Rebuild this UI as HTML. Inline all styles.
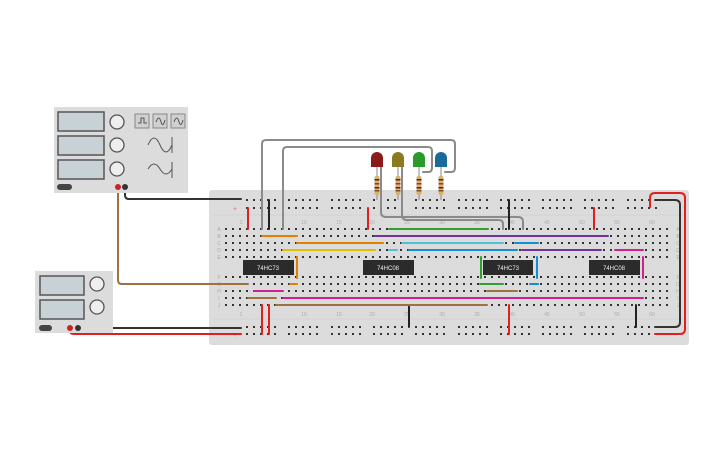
<!DOCTYPE html>
<html><head><meta charset="utf-8"><style>html,body{margin:0;padding:0;background:#fff}svg{display:block}</style></head>
<body>
<svg id="s" width="725" height="453" viewBox="0 0 725 453" xmlns="http://www.w3.org/2000/svg" font-family="Liberation Sans, sans-serif">
<!-- breadboard -->
<rect x="209" y="190" width="480" height="155" rx="3" fill="#dcdcdc"/>
<line x1="214" y1="215" x2="684" y2="215" stroke="#cfcfcf" stroke-width="0.8"/>
<line x1="214" y1="319" x2="684" y2="319" stroke="#cfcfcf" stroke-width="0.8"/>
<text x="233" y="211" font-size="7" fill="#e07070">+</text>
<text x="233" y="337" font-size="7" fill="#e07070">+</text>
<g id="holes" fill="#333"></g>
<g id="labels" font-size="5" fill="#aaa"></g>
<!-- chips -->
<g font-size="6" fill="#eee" text-anchor="middle">
<rect x="243" y="260" width="51" height="15" fill="#2b2b2b"/><text x="268" y="270">74HC73</text>
<rect x="363" y="260" width="51" height="15" fill="#2b2b2b"/><text x="388" y="270">74HC08</text>
<rect x="483" y="260" width="50" height="15" fill="#2b2b2b"/><text x="508" y="270">74HC73</text>
<rect x="589" y="260" width="51" height="15" fill="#2b2b2b"/><text x="614" y="270">74HC08</text>
</g>
<g fill="none" stroke-linecap="round" stroke-width="2">
<!-- gray LED wires -->
<path d="M262 229 V144 Q262 140 266 140 H451 Q455 140 455 144 V168 Q455 172 451 172 H445" stroke="#8a8a8a"/>
<path d="M283 229 V151 Q283 147 287 147 H428 Q432 147 432 151 V168 Q432 172 428 172 H423" stroke="#8a8a8a"/>
<path d="M381 165 V212 Q381 217 386 217 H518 Q523 217 523 222 V229" stroke="#8a8a8a"/>
<path d="M402 165 V215 Q402 220 407 220 H499 Q503 220 503 224 V229" stroke="#8a8a8a"/>
<!-- verticals -->
<path d="M248 208 V229" stroke="#e02020"/>
<path d="M269 200 V229" stroke="#222"/>
<path d="M368 208 V229" stroke="#e02020"/>
<path d="M509 200 V229" stroke="#222"/>
<path d="M594 208 V229" stroke="#e02020"/>
<path d="M262 305 V334" stroke="#e02020"/>
<path d="M269 305 V334" stroke="#e02020"/>
<path d="M409 305 V327" stroke="#222"/>
<path d="M509 305 V334" stroke="#e02020"/>
<path d="M636 305 V327" stroke="#222"/>
<path d="M297 257 V278" stroke="#e08000"/>
<path d="M481 257 V278" stroke="#30a030"/>
<path d="M537 257 V278" stroke="#1090d0"/>
<path d="M643 257 V278" stroke="#d02090"/>
<!-- horizontals -->
<path d="M389 229 H488" stroke="#30a030"/>
<path d="M262 236 H297" stroke="#e08000"/>
<path d="M374 236 H608" stroke="#7030a0"/>
<path d="M297 243 H383" stroke="#e08000"/>
<path d="M402 243 H503" stroke="#50c0d8"/>
<path d="M515 243 H538" stroke="#1090d0"/>
<path d="M283 250 H375" stroke="#e0c000"/>
<path d="M389 250 H397" stroke="#50c0d8"/>
<path d="M409 250 H517" stroke="#1090d0"/>
<path d="M522 250 H601" stroke="#7030a0"/>
<path d="M615 250 H643" stroke="#d02090"/>
<path d="M290 284 H297" stroke="#e08000"/>
<path d="M480 284 H503" stroke="#30a030"/>
<path d="M530 284 H538" stroke="#1090d0"/>
<path d="M254 291 H283" stroke="#d02090"/>
<path d="M487 291 H517" stroke="#a07040"/>
<path d="M248 298 H276" stroke="#a07040"/>
<path d="M283 298 H643" stroke="#d02090"/>
<path d="M276 305 H487" stroke="#a07040"/>
<!-- right loops -->
<path d="M650 207 V198 Q650 193 655 193 H680 Q685 193 685 198 V329 Q685 334 680 334 H655" stroke="#e02020"/>
<path d="M655 200 H675 Q680 200 680 205 V322 Q680 327 675 327 H655" stroke="#333"/>
<!-- source wires -->
<path d="M125 187 V195 Q125 199 129 199 H241" stroke="#333"/>
<path d="M118 187 V280 Q118 284 122 284 H248" stroke="#a07040"/>
<path d="M78 328 H241" stroke="#333"/>
<path d="M70 328 V331 Q70 334 74 334 H241" stroke="#e02020"/>
</g>
<!-- LEDs and resistors -->
<g>
<g id="leds"></g>
</g>
<!-- function generator -->
<rect x="54" y="107" width="134" height="86" fill="#dcdcdc"/>
<g fill="#c8d2d6" stroke="#555" stroke-width="1.5">
<rect x="58" y="112" width="46" height="19"/><rect x="58" y="136" width="46" height="19"/><rect x="58" y="160" width="46" height="19"/>
</g>
<g fill="#eee" stroke="#555" stroke-width="1.3">
<circle cx="117" cy="122" r="7"/><circle cx="117" cy="145" r="7"/><circle cx="117" cy="169" r="7"/>
</g>
<g fill="#d0d0d0" stroke="#888"><rect x="135" y="114" width="14" height="14"/><rect x="153" y="114" width="14" height="14"/><rect x="171" y="114" width="14" height="14"/></g>
<g fill="none" stroke="#555"><path d="M138 123 h3 v-5 h3 v5 h3"/><path d="M156 122 q3 -8 5 0 q2 6 4 -2"/><path d="M174 122 q3 -8 5 0 q2 6 4 -2"/>
<path d="M148 145 q6 -14 12 0 q6 14 12 0"/><path d="M172 137 v16"/><path d="M148 169 q6 -10 12 0 q6 10 12 0"/><path d="M172 162 v16"/></g>
<rect x="57" y="184" width="15" height="6" rx="3" fill="#444"/>
<circle cx="118" cy="187" r="3" fill="#d02020"/><circle cx="125" cy="187" r="3" fill="#333"/>
<!-- power supply -->
<rect x="35" y="271" width="78" height="62" fill="#dcdcdc"/>
<g fill="#c8d2d6" stroke="#555" stroke-width="1.5"><rect x="40" y="276" width="44" height="19"/><rect x="40" y="300" width="44" height="19"/></g>
<g fill="#eee" stroke="#555" stroke-width="1.3"><circle cx="97" cy="284" r="7"/><circle cx="97" cy="307" r="7"/></g>
<rect x="39" y="325" width="13" height="6" rx="3" fill="#444"/>
<circle cx="70" cy="328" r="3" fill="#d02020"/><circle cx="78" cy="328" r="3" fill="#333"/>
</svg>
<script>
var NS="http://www.w3.org/2000/svg",h=document.getElementById('holes'),lb=document.getElementById('labels');
function r(x,y){var e=document.createElementNS(NS,'rect');e.setAttribute('x',x-1);e.setAttribute('y',y-1);e.setAttribute('width',2);e.setAttribute('height',2);h.appendChild(e);}
function t(x,y,s){var e=document.createElementNS(NS,'text');e.setAttribute('x',x);e.setAttribute('y',y);e.setAttribute('text-anchor','middle');e.textContent=s;lb.appendChild(e);}
[229,236,243,250,257,277,284,291,298,305].forEach(function(y){for(var k=0;k<64;k++)r(226+7*k,y);});
[200,208,327,334].forEach(function(y){for(var g=0;g<10;g++)for(var i=0;i<5;i++)r(Math.round(247+42.3*g+7*i),y);});
"ABCDE".split('').forEach(function(c,i){t(219,231+7*i,c);t(678,231+7*i,c);});
"FGHIJ".split('').forEach(function(c,i){t(219,279+7*i,c);t(678,279+7*i,c);});
t(241,224,'1');t(241,316,'1');
for(var n=5;n<=60;n+=5){t(241+7*(n-1)+(n>=20?-2:0),224,n);t(241+7*(n-1)+(n>=20?-2:0),316,n);}
var L=document.getElementById('leds');
[[377,'#8b1a1a'],[398,'#8a7a20'],[419,'#2a9a2a'],[441,'#1a6a9a']].forEach(function(a){
var x=a[0];
L.innerHTML+='<line x1="'+x+'" y1="166" x2="'+x+'" y2="200" stroke="#888" stroke-width="1"/>'+
'<rect x="'+(x-2.5)+'" y="176" width="5" height="19" rx="2" fill="#d8b070"/>'+
'<rect x="'+(x-2.5)+'" y="179" width="5" height="1.5" fill="#333"/><rect x="'+(x-2.5)+'" y="183" width="5" height="1.5" fill="#d02020"/><rect x="'+(x-2.5)+'" y="187" width="5" height="1.5" fill="#333"/><rect x="'+(x-2.5)+'" y="190" width="5" height="1.5" fill="#8a5020"/>'+
'<path d="M'+(x-6)+' 167 V158 a6 6 0 0 1 12 0 V167 Z" fill="'+a[1]+'"/>';
});
</script>
</body></html>
